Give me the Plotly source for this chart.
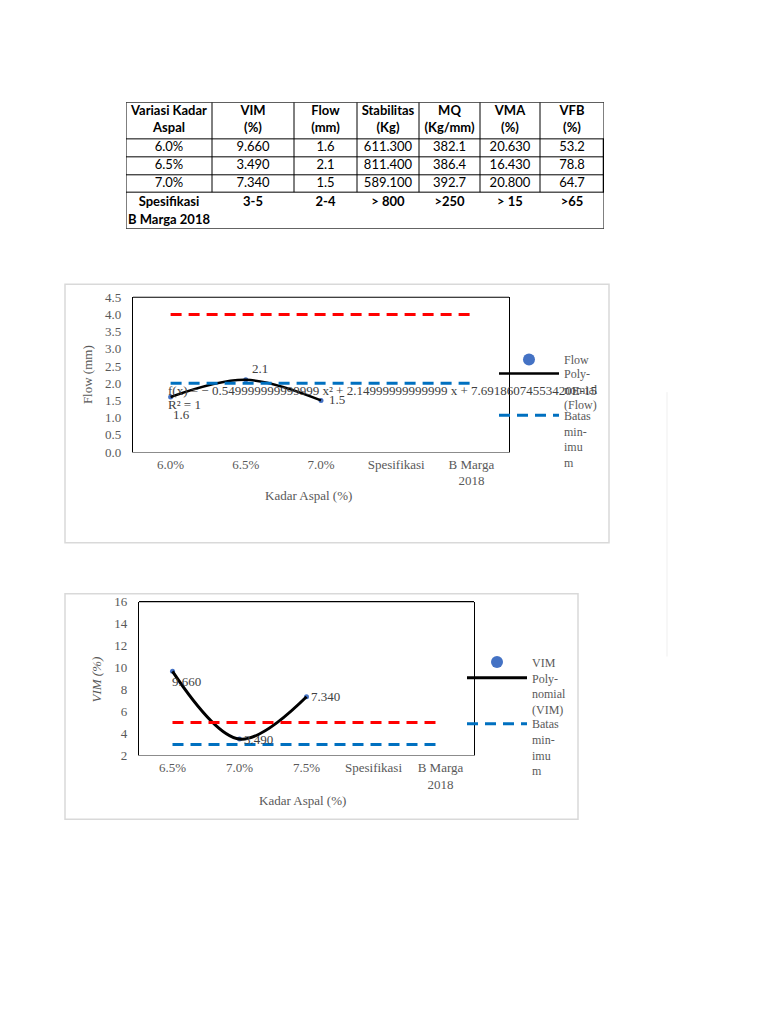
import plotly.graph_objects as go

# page is 768x1024 with the default 8px body margin around the figure
OFF = 8
W, H = 768 - 2 * OFF, 1024 - 2 * OFF
V_SCALE, V_SHIFT = 0.987, 6.3   # small vertical correction of the photographed page

def px(x):
    return (x - OFF) / W

def py(y):
    page = (y - V_SHIFT) / V_SCALE
    return 1 - (page - OFF) / H

# ---------------- data ----------------
tbl_head1 = ["Variasi Kadar", "VIM", "Flow", "Stabilitas", "MQ", "VMA", "VFB"]
tbl_head2 = ["Aspal", "(%)", "(mm)", "(Kg)", "(Kg/mm)", "(%)", "(%)"]
tbl_kadar = ["6.0%", "6.5%", "7.0%"]
tbl_vim = ["9.660", "3.490", "7.340"]
tbl_flow = ["1.6", "2.1", "1.5"]
tbl_stab = ["611.300", "811.400", "589.100"]
tbl_mq = ["382.1", "386.4", "392.7"]
tbl_vma = ["20.630", "16.430", "20.800"]
tbl_vfb = ["53.2", "78.8", "64.7"]
tbl_spec1 = ["Spesifikasi", "3-5", "2-4", "> 800", ">250", "> 15", ">65"]
tbl_spec2 = ["B Marga 2018"]

flow_cats = ["6.0%", "6.5%", "7.0%", "Spesifikasi", "B Marga<br>2018"]
flow_x = ["6.0%", "6.5%", "7.0%"]
flow_y = [1.6, 2.1, 1.5]
flow_labels = ["1.6", "2.1", "1.5"]
flow_max = 4.0
flow_min = 2.0

vim_cats = ["6.5%", "7.0%", "7.5%", "Spesifikasi", "B Marga<br>2018"]
vim_x = ["6.5%", "7.0%", "7.5%"]
vim_y = [9.660, 3.490, 7.340]
vim_labels = ["9.660", "3.490", "7.340"]
vim_max = 5.0
vim_min = 3.0

flow_eq = "f(x) = − 0.549999999999999 x² + 2.14999999999999 x + 7.69186074553420E-15"
flow_r2 = "R² = 1"

# ---------------- styles ----------------
SERIF = "Liberation Serif"
SANS = "Lato"
GRAY = "#595959"
DOT = "#4472C4"
RED = "#FF0000"
BLUE = "#0070C0"

tbl_col_w = [86, 82, 63, 62, 61, 60, 64]
tbl_line_y = [0, 36.6, 54.6, 72.6, 90, 126.6]
tbl_text_y = dict(h1=9.6, h2=26.8, rows=[45.8, 63.8, 81.5], s1=100.8, s2=118.5)
flow_lbl_shift = [(11, -18), (14, 11), (16, 1)]
vim_lbl_shift = [(14, -10), (19, 0), (19, 0)]

fig = go.Figure()

# ---------------- table (own hidden axes x3/y3) ----------------
tbl_w = sum(tbl_col_w)
tbl_h = tbl_line_y[-1]
edges = [0]
for w in tbl_col_w:
    edges.append(edges[-1] + w)
centers = [(edges[i] + edges[i + 1]) / 2 for i in range(len(tbl_col_w))]

def b(s):
    return "<b>" + s + "</b>"

tx, ty, tt = [], [], []
for i, c in enumerate(centers):
    tx += [c, c, c]
    ty += [tbl_text_y["h1"], tbl_text_y["h2"], tbl_text_y["s1"]]
    tt += [b(tbl_head1[i]), b(tbl_head2[i]), b(tbl_spec1[i])]
tx.append(centers[0])
ty.append(tbl_text_y["s2"])
tt.append(b(tbl_spec2[0]))
cols = [tbl_kadar, tbl_vim, tbl_flow, tbl_stab, tbl_mq, tbl_vma, tbl_vfb]
for i, col in enumerate(cols):
    for r, v in enumerate(col):
        tx.append(centers[i])
        ty.append(tbl_text_y["rows"][r])
        tt.append(v)

fig.add_trace(go.Scatter(
    x=tx, y=ty, text=tt, mode="text", textposition="middle center",
    textfont=dict(family=SANS, size=13, color="black"),
    hoverinfo="skip", showlegend=False, xaxis="x3", yaxis="y3", cliponaxis=False,
))

# ---------------- chart 1 : Flow ----------------
fig.add_trace(go.Scatter(
    x=flow_x, y=flow_y, mode="markers", name="Flow",
    marker=dict(color=DOT, size=5), xaxis="x", yaxis="y", legend="legend",
))
fig.add_trace(go.Scatter(
    x=flow_x, y=flow_y, mode="lines", name="Poly-<br>nomial<br>(Flow)",
    line=dict(color="black", width=2.5, shape="spline"),
    xaxis="x", yaxis="y", legend="legend3",
))
fig.add_trace(go.Scatter(
    x=[flow_cats[0], flow_cats[-1]], y=[flow_max, flow_max], mode="lines",
    name="Batas maksimum", showlegend=False,
    line=dict(color=RED, width=3, dash="11px,7px"), xaxis="x", yaxis="y",
))
fig.add_trace(go.Scatter(
    x=[flow_cats[0], flow_cats[-1]], y=[flow_min, flow_min], mode="lines",
    name="Batas<br>min-<br>imu<br>m",
    line=dict(color=BLUE, width=3, dash="11px,7px"), xaxis="x", yaxis="y", legend="legend4",
))

# ---------------- chart 2 : VIM ----------------
fig.add_trace(go.Scatter(
    x=vim_x, y=vim_y, mode="markers", name="VIM",
    marker=dict(color=DOT, size=5), xaxis="x2", yaxis="y2", legend="legend2",
))
fig.add_trace(go.Scatter(
    x=vim_x, y=vim_y, mode="lines", name="Poly-<br>nomial<br>(VIM)",
    line=dict(color="black", width=3, shape="spline"),
    xaxis="x2", yaxis="y2", legend="legend5",
))
fig.add_trace(go.Scatter(
    x=[vim_cats[0], vim_cats[-1]], y=[vim_max, vim_max], mode="lines",
    name="Batas maksimum", showlegend=False,
    line=dict(color=RED, width=3, dash="11px,7px"), xaxis="x2", yaxis="y2",
))
fig.add_trace(go.Scatter(
    x=[vim_cats[0], vim_cats[-1]], y=[vim_min, vim_min], mode="lines",
    name="Batas<br>min-<br>imu<br>m",
    line=dict(color=BLUE, width=3, dash="11px,7px"), xaxis="x2", yaxis="y2", legend="legend6",
))

tickfont = dict(family=SERIF, size=13, color=GRAY)

def xax(domain, cats, anchor):
    return dict(domain=domain, anchor=anchor, type="category", categoryorder="array",
                categoryarray=cats, range=[-0.5, 4.5], showgrid=False, zeroline=False,
                showline=True, linecolor="#8c8c8c", linewidth=1, ticks="",
                tickfont=tickfont, ticklabelstandoff=0, fixedrange=True)

def yax(domain, rng, dtick, fmt, anchor):
    return dict(domain=domain, anchor=anchor, range=rng, dtick=dtick, tickformat=fmt,
                showgrid=False, zeroline=False, showline=True, linecolor="black",
                linewidth=1.2, mirror=True, ticks="", tickfont=tickfont,
                ticklabelstandoff=8, fixedrange=True)

def leg(text_x, first_line_y, sizing="trace"):
    return dict(x=px(text_x - 71), y=py(first_line_y - 13), xanchor="left", yanchor="top",
                bgcolor="rgba(0,0,0,0)", font=dict(family=SERIF, size=12, color=GRAY),
                tracegroupgap=0, valign="top", itemsizing=sizing, itemwidth=60)

fig.update_layout(
    width=W, height=H, margin=dict(l=0, r=0, t=0, b=0),
    paper_bgcolor="white", plot_bgcolor="white",
    xaxis=xax([px(133), px(509)], flow_cats, "y"),
    yaxis=yax([py(452), py(297)], [0, 4.5], 0.5, ".1f", "x"),
    xaxis2=xax([px(139), px(474)], vim_cats, "y2"),
    yaxis2=yax([py(756), py(602)], [2, 16], 2, "d", "x2"),
    xaxis3=dict(domain=[px(126), px(604)], range=[0, tbl_w], visible=False,
                anchor="y3", fixedrange=True),
    yaxis3=dict(domain=[py(228.3), py(101.7)], range=[tbl_h, 0], visible=False,
                anchor="x3", fixedrange=True),
    legend=leg(565, 358, "constant"),
    legend3=leg(565, 372),
    legend4=leg(565, 414),
    legend2=leg(533, 661, "constant"),
    legend5=leg(533, 677),
    legend6=leg(533, 723),
    showlegend=True,
)

# chart frames, plot-area top borders, table grid
shapes = [
    dict(type="rect", xref="paper", yref="paper", x0=px(65), x1=px(609), y0=py(543), y1=py(284),
         line=dict(color="#d9d9d9", width=1.5), layer="below"),
    dict(type="rect", xref="paper", yref="paper", x0=px(65), x1=px(578), y0=py(820), y1=py(594),
         line=dict(color="#d9d9d9", width=1.5), layer="below"),
    dict(type="line", xref="x domain", yref="y domain", x0=0, x1=1, y0=1, y1=1,
         line=dict(color="black", width=1.2)),
    dict(type="line", xref="x2 domain", yref="y2 domain", x0=0, x1=1, y0=1, y1=1,
         line=dict(color="black", width=1.2)),
    dict(type="line", xref="paper", yref="paper", x0=px(667), x1=px(667), y0=py(657), y1=py(392),
         line=dict(color="#efefef", width=1)),
]
grid = dict(color="black", width=1)
for yl in tbl_line_y:
    shapes.append(dict(type="line", xref="x3", yref="y3", x0=0, x1=tbl_w, y0=yl, y1=yl, line=grid))
for i, e in enumerate(edges):
    y_end = tbl_h if i in (0, len(edges) - 1) else tbl_line_y[4]
    shapes.append(dict(type="line", xref="x3", yref="y3", x0=e, x1=e, y0=0, y1=y_end, line=grid))
shapes.append(dict(type="line", xref="x3", yref="y3", x0=tbl_w, x1=tbl_w,
                   y0=tbl_line_y[1], y1=tbl_line_y[4], line=dict(color="black", width=2.5)))
fig.update_layout(shapes=shapes)

def ann(text, x, y, angle=0, anchor="center", color=GRAY):
    return dict(text=text, x=px(x), y=py(y), xref="paper", yref="paper", textangle=angle,
                xanchor=anchor, yanchor="middle", showarrow=False,
                font=dict(family=SERIF, size=13, color=color))

annotations = [
    ann("Flow (mm)", 87, 375, -90),
    ann("Kadar Aspal (%)", 308, 496),
    ann("<i>VIM (%)</i>", 97, 680, -90),
    ann("Kadar Aspal (%)", 302, 801),
    ann(flow_eq, 166, 390, anchor="left", color="#404040"),
    ann(flow_r2, 166, 404, anchor="left", color="#404040"),
]
# data labels attached to the points through the chart axes
for xv, yv, t, (dx, dy) in zip(flow_x, flow_y, flow_labels, flow_lbl_shift):
    annotations.append(dict(text=t, x=xv, y=yv, xref="x", yref="y", xshift=dx, yshift=dy,
                            showarrow=False, xanchor="center", yanchor="middle",
                            font=dict(family=SERIF, size=13, color="#404040")))
for xv, yv, t, (dx, dy) in zip(vim_x, vim_y, vim_labels, vim_lbl_shift):
    annotations.append(dict(text=t, x=xv, y=yv, xref="x2", yref="y2", xshift=dx, yshift=dy,
                            showarrow=False, xanchor="center", yanchor="middle",
                            font=dict(family=SERIF, size=13, color="#404040")))
fig.update_layout(annotations=annotations)

fig.write_html("out.html")
